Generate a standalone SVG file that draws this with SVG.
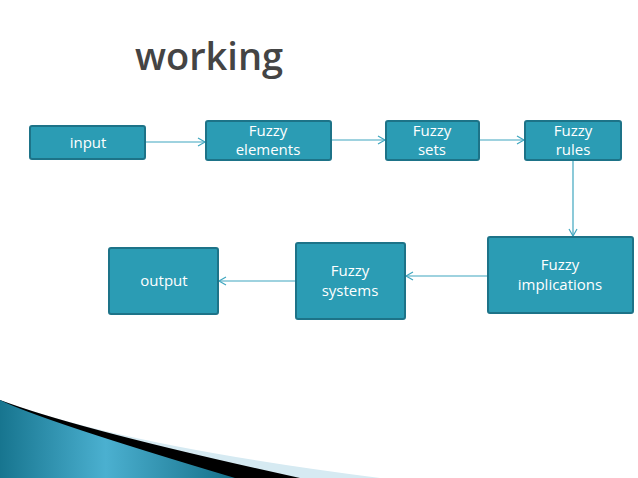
<svg xmlns="http://www.w3.org/2000/svg" width="638" height="478" viewBox="0 0 638 478">
<style>
.b{fill:#2B9CB4;stroke:#1D7388;stroke-width:2}
.t{font-family:"Open Sans","DejaVu Sans",sans-serif;font-size:15px;fill:#fff;text-anchor:middle}
.c{stroke:#3FA6BF;stroke-width:1.2;fill:none;marker-end:url(#a)}
</style>
<defs>
<marker id="a" markerWidth="10" markerHeight="10" refX="8" refY="5" orient="auto" markerUnits="userSpaceOnUse"><path d="M1,1 L8,5 L1,9" fill="none" stroke="#3FA6BF" stroke-width="1.2"/></marker>
<linearGradient id="g" x1="0" y1="0" x2="1" y2="0"><stop offset="0" stop-color="#17758F"/><stop offset="0.45" stop-color="#4BB0D0"/><stop offset="1" stop-color="#156F88"/></linearGradient>
</defs>
<rect width="638" height="478" fill="#fff"/>
<path d="M0,400 Q120,445 380,478 L0,478Z" fill="#D6EAF2"/>
<path d="M0,400 Q80,430 300,478 L0,478Z" fill="#000"/>
<path d="M0,400 Q40,420 235,478 L0,478Z" fill="url(#g)"/>
<text x="135" y="70" font-family="'Open Sans','DejaVu Sans',sans-serif" font-size="38" font-weight="600" fill="#444">working</text>
<g id="connectors">
<path class="c" d="M145,142 H205"/>
<path class="c" d="M331,140 H385"/>
<path class="c" d="M479,140 H524"/>
<path class="c" d="M573,160 V236"/>
<path class="c" d="M488,276 H406"/>
<path class="c" d="M296,281 H219"/>
</g>
<g id="input"><rect class="b" x="30" y="126" width="115" height="33" rx="2"/><text class="t" x="88" y="148">input</text></g>
<g id="elements"><rect class="b" x="206" y="121" width="125" height="39" rx="2"/><text class="t" x="268" y="136">Fuzzy</text><text class="t" x="268" y="155">elements</text></g>
<g id="sets"><rect class="b" x="386" y="121" width="93" height="39" rx="2"/><text class="t" x="432" y="136">Fuzzy</text><text class="t" x="432" y="155">sets</text></g>
<g id="rules"><rect class="b" x="525" y="121" width="96" height="39" rx="2"/><text class="t" x="573" y="136">Fuzzy</text><text class="t" x="573" y="155">rules</text></g>
<g id="implications"><rect class="b" x="488" y="237" width="145" height="76" rx="2"/><text class="t" x="560" y="270">Fuzzy</text><text class="t" x="560" y="290">implications</text></g>
<g id="systems"><rect class="b" x="296" y="243" width="109" height="76" rx="2"/><text class="t" x="350" y="276">Fuzzy</text><text class="t" x="350" y="296">systems</text></g>
<g id="output"><rect class="b" x="109" y="248" width="109" height="66" rx="2"/><text class="t" x="164" y="286">output</text></g>
</svg>
